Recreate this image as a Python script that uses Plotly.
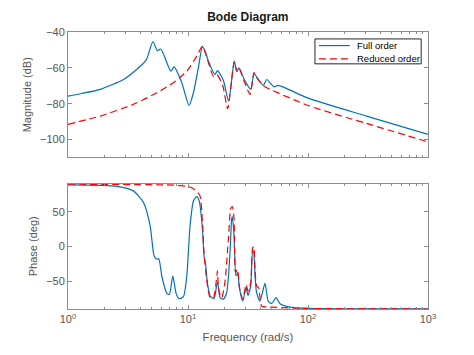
import plotly.graph_objects as go
from plotly.subplots import make_subplots

# Magnitude, full order
mag_full_f = [1, 1.3, 1.86, 2.9, 4.0, 4.5, 5.1, 5.56, 5.94, 7.2, 7.66, 8.88, 10.2, 11.1, 12.2, 13.2, 14.06, 14.8,
              16.8, 17.6, 19.7, 21.8, 24.3, 25.5, 26.5, 29.9, 33.3, 35.5, 37.3, 42.4, 45.3, 52, 56.5, 100, 307, 1000]
mag_full_db = [-75.8, -74.3, -72, -66.5, -59.1, -55.4, -45.4, -50.4, -49.5, -61.9, -59.5, -68.3, -81, -73.9, -60, -48,
               -51.7, -56.3, -63.7, -61.5, -66.9, -78.6, -56.3, -61.9, -60, -67.4, -72, -63.2, -65, -69.8, -66.5,
               -70.6, -69.8, -76.9, -86.9, -97.1]

# Magnitude, reduced order
mag_red_f = [1, 1.86, 3.5, 5.5, 7.56, 9.77, 11.8, 13.2, 14.8, 16.3, 17.4, 19.5, 21.4, 24.3, 25.5, 26.5, 29.9, 32.9,
             35.5, 37.3, 42.4, 45.3, 100, 307, 1000]
mag_red_db = [-91.5, -86.9, -80.4, -73.9, -68.3, -61.9, -53.6, -47.9, -57.2, -64.7, -63.7, -70, -82.8, -56.5, -61.9,
              -60, -68.8, -74.8, -62.6, -65.5, -69.8, -71.1, -81, -91, -101.3]

# Phase, full order
ph_full_f = [1, 2.56, 3.5, 4.26, 4.84, 5.22, 5.5, 5.71, 6.05, 6.66, 7.0, 7.47, 7.96, 8.43, 9.16, 9.77, 10.4, 11.1,
             11.8, 12.4, 13.2, 13.6, 14.06, 14.5, 15.3, 16.5, 17.4, 17.7, 18.5, 19.7, 21, 22.4, 23.1, 23.4, 24.2,
             25.1, 26, 26.7, 28.6, 30.5, 31.6, 33.3, 34.6, 35.3, 36.2, 37.3, 39.8, 43.8, 46.6, 49.9, 54.2, 58.4,
             70.8, 100, 1000]
ph_full_deg = [89, 87, 80.4, 63.6, 29.8, -13.5, -18.3, -17.4, -42.4, -67.5, -68.9, -42.4, -67.5, -75.2, -72.3, -42.4,
               29.8, 65.9, 72.2, 65.9, 25, -13.5, -28, -52, -71.3, -75.2, -54.4, -52, -73.7, -76, -66.5, -8.7, 39.5,
               43.3, 15.2, -42.4, -37.6, -56.9, -78.6, -59.3, -70.4, -56.9, -6.3, -7.8, -42.4, -66.5, -78.6, -53,
               -78.6, -82, -73.7, -82.5, -87.3, -89.2, -89.9]

# Phase, reduced order
ph_red_f = [1, 6.66, 8.6, 10.4, 11.8, 12.6, 13.2, 13.6, 14.3, 15.3, 16.3, 17.2, 17.6, 18, 19.1, 20.3, 21.8, 22.7,
            23.4, 24.2, 24.9, 25.8, 27, 28.6, 30.5, 31.6, 33.3, 34.6, 35.3, 36.2, 37.3, 38.8, 41.1, 45.3, 100, 1000]
ph_red_deg = [90, 89, 88, 86, 80, 73, 34.6, -8.7, -47, -73.7, -73.7, -50, -35, -61.6, -73.7, -52, 15.2, 54.9, 57.8,
              39.5, -37.6, -32.8, -61.6, -76, -54.4, -64.1, -52, -1.5, 0, -32.8, -56.9, -59.3, -86, -86.9, -89.2, -90]

series_names = ["Full order", "Reduced order"]
x_tickvals = [1, 10, 100, 1000]
x_ticktext = ["10<sup>0</sup>", "10<sup>1</sup>", "10<sup>2</sup>", "10<sup>3</sup>"]
mag_ticks = [-100, -80, -60, -40]
ph_ticks = [-50, 0, 50]

BLUE = "#0072BD"
RED = "#FF0000"
AXC = "#8c8c8c"
TICKC = "#555555"
FONT = "Liberation Sans, Arial, sans-serif"
DASH = "7px,4px"

fig = make_subplots(rows=2, cols=1, shared_xaxes=False, vertical_spacing=0.094)

line_full = dict(color=BLUE, width=1.2, shape="spline", smoothing=0.6)
line_red = dict(color=RED, width=1.2, dash=DASH, shape="spline", smoothing=0.6)

fig.add_trace(go.Scatter(x=mag_full_f, y=mag_full_db, mode="lines", name=series_names[0], line=line_full), row=1, col=1)
fig.add_trace(go.Scatter(x=mag_red_f, y=mag_red_db, mode="lines", name=series_names[1], line=line_red), row=1, col=1)
fig.add_trace(go.Scatter(x=ph_full_f, y=ph_full_deg, mode="lines", name=series_names[0], line=line_full), row=2, col=1)
fig.add_trace(go.Scatter(x=ph_red_f, y=ph_red_deg, mode="lines", name=series_names[1], line=line_red), row=2, col=1)

common_x = dict(type="log", range=[0, 3], tickvals=x_tickvals, showgrid=False, zeroline=False, automargin=False,
                showline=True, linecolor=AXC, linewidth=1, mirror="allticks", ticks="inside",
                ticklen=4, tickcolor=AXC,
                minor=dict(ticks="inside", ticklen=2, tickcolor=AXC, dtick="D1"),
                tickfont=dict(family=FONT, size=11, color=TICKC))
fig.update_xaxes(**common_x, showticklabels=False, row=1, col=1)
fig.update_xaxes(**common_x, ticktext=x_ticktext, row=2, col=1,
                 title=dict(text="Frequency (rad/s)", font=dict(family=FONT, size=11.5, color=TICKC), standoff=8))

common_y = dict(showgrid=False, zeroline=False, showline=True, linecolor=AXC, linewidth=1, automargin=False,
                mirror="allticks", ticks="inside", ticklen=4, tickcolor=AXC,
                tickfont=dict(family=FONT, size=11, color=TICKC))
fig.update_yaxes(**common_y, range=[-110, -40], tickvals=mag_ticks, row=1, col=1,
                 title=dict(text="Magnitude (dB)", font=dict(family=FONT, size=11, color=TICKC), standoff=6))
fig.update_yaxes(**common_y, range=[-90, 91], tickvals=ph_ticks, row=2, col=1,
                 title=dict(text="Phase (deg)", font=dict(family=FONT, size=11, color=TICKC), standoff=6))

# Legend box (drawn as layout decoration, paper coordinates)
fig.add_shape(type="rect", xref="paper", yref="paper", x0=0.686, x1=0.981, y0=0.885, y1=0.975,
              line=dict(color="#262626", width=1), fillcolor="white", layer="above")
fig.add_shape(type="line", xref="paper", yref="paper", x0=0.697, x1=0.783, y0=0.951, y1=0.951,
              line=dict(color=BLUE, width=1.2), layer="above")
fig.add_shape(type="line", xref="paper", yref="paper", x0=0.697, x1=0.783, y0=0.903, y1=0.903,
              line=dict(color=RED, width=1.2, dash=DASH), layer="above")
for name, yy in zip(series_names, [0.951, 0.903]):
    fig.add_annotation(xref="paper", yref="paper", x=0.797, y=yy, xanchor="left", yanchor="middle",
                       text=name, showarrow=False, font=dict(family=FONT, size=9.5, color="black"))

fig.update_layout(
    width=474, height=355,
    margin=dict(l=60, r=54, t=24, b=54),
    paper_bgcolor="white", plot_bgcolor="white",
    title=dict(text="<b>Bode Diagram</b>", x=0.506, xanchor="center", y=0.975, yanchor="middle",
               font=dict(family=FONT, size=12, color="#1a1a1a")),
    showlegend=False,
)

fig.write_html("out.html")
